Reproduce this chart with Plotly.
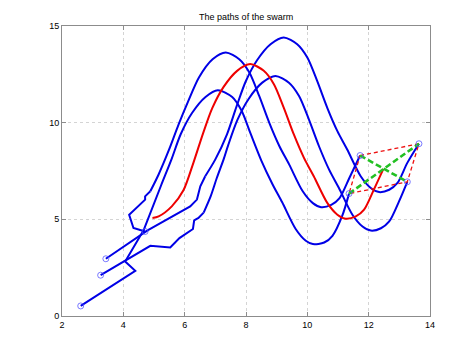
import plotly.graph_objects as go

# ---- data ----
red_x = [4.95, 5.15, 5.58, 5.96, 6.29, 6.60, 6.90, 7.27, 7.71, 8.14, 8.58, 8.91, 9.23, 9.56, 9.89, 10.21, 10.65, 10.98, 11.25, 11.58, 11.85, 12.17, 12.48]
red_y = [5.07, 5.15, 5.67, 6.50, 7.95, 9.45, 10.75, 11.85, 12.68, 13.03, 12.68, 11.99, 10.78, 9.39, 8.18, 7.23, 5.85, 5.24, 5.03, 5.15, 5.50, 6.54, 7.61]

a_rough_x = [4.71, 4.33, 4.19, 4.71, 4.71, 4.88]
a_rough_y = [4.37, 4.55, 5.24, 6.02, 6.19, 6.45]
a_smooth_x = [4.88, 5.15, 5.49, 5.80, 6.10, 6.47, 6.91, 7.34, 7.78, 8.11, 8.43, 8.76, 9.09, 9.41, 9.85, 10.18, 10.45, 10.78, 11.05, 11.37, 11.72]
a_smooth_y = [6.45, 7.32, 8.60, 9.90, 11.05, 12.35, 13.28, 13.63, 13.28, 12.59, 11.38, 9.99, 8.78, 7.83, 6.45, 5.84, 5.63, 5.75, 6.10, 7.14, 8.30]

b_rough_x = [2.61, 4.39, 4.06, 4.66]
b_rough_y = [0.52, 2.34, 2.82, 4.43]
b_smooth_x = [4.66, 5.23, 5.57, 5.87, 6.24, 6.68, 7.08, 7.55, 7.85, 8.15, 8.50, 8.86, 9.18, 9.62, 9.95, 10.18, 10.55, 10.82, 11.14, 11.36]
b_smooth_y = [4.43, 6.75, 8.10, 9.40, 10.50, 11.33, 11.68, 11.33, 10.64, 9.43, 8.04, 6.83, 5.88, 4.50, 3.89, 3.72, 3.80, 4.15, 5.19, 6.33]

c_rough_x = [3.43, 4.79, 6.18, 6.40, 6.51, 6.67]
c_rough_y = [2.96, 4.43, 5.67, 6.02, 6.71, 7.23]
c_smooth_x = [6.67, 7.00, 7.38, 7.69, 7.99, 8.36, 8.80, 9.23, 9.67, 10.00, 10.32, 10.65, 10.98, 11.30, 11.74, 12.07, 12.34, 12.67, 12.94, 13.26, 13.64]
c_smooth_y = [7.23, 8.10, 9.40, 10.83, 12.13, 13.23, 14.06, 14.41, 14.06, 13.37, 12.16, 10.77, 9.56, 8.61, 7.23, 6.62, 6.41, 6.53, 6.88, 7.92, 8.91]

d_rough_x = [3.26, 4.88, 5.53, 5.83, 6.27, 6.31, 6.45, 6.62]
d_rough_y = [2.11, 3.63, 3.54, 4.03, 4.50, 4.95, 5.07, 5.35]
d_smooth_x = [6.62, 6.85, 7.05, 7.27, 7.42, 7.72, 8.09, 8.53, 8.96, 9.40, 9.73, 10.05, 10.38, 10.71, 11.03, 11.47, 11.80, 12.07, 12.40, 12.67, 12.99, 13.26]
d_smooth_y = [5.35, 6.20, 7.15, 8.10, 8.84, 10.14, 11.24, 12.07, 12.42, 12.07, 11.38, 10.17, 8.78, 7.57, 6.62, 5.24, 4.63, 4.42, 4.54, 4.89, 5.93, 6.94]

start_x = [2.61, 3.26, 3.43, 4.71]
start_y = [0.52, 2.11, 2.96, 4.37]
# final positions: A, C, D, B
end_x = [11.72, 13.64, 13.26, 11.36]
end_y = [8.30, 8.91, 6.94, 6.33]

x_ticks = [2, 4, 6, 8, 10, 12, 14]
y_ticks = [0, 5, 10, 15]
title_text = "The paths of the swarm"

BLUE = "#0000e6"
FONT = "Liberation Sans, Arial, sans-serif"
fig = go.Figure()

for rx, ry, sx, sy in [(a_rough_x, a_rough_y, a_smooth_x, a_smooth_y),
                       (b_rough_x, b_rough_y, b_smooth_x, b_smooth_y),
                       (c_rough_x, c_rough_y, c_smooth_x, c_smooth_y),
                       (d_rough_x, d_rough_y, d_smooth_x, d_smooth_y)]:
    fig.add_trace(go.Scatter(x=rx, y=ry, mode="lines",
                             line=dict(color=BLUE, width=2)))
    fig.add_trace(go.Scatter(x=sx, y=sy, mode="lines",
                             line=dict(color=BLUE, width=2, shape="spline", smoothing=0.8)))

fig.add_trace(go.Scatter(x=red_x, y=red_y, mode="lines",
                         line=dict(color="#ee0000", width=2, shape="spline", smoothing=0.8)))

# polygon of final positions (A, C, D, B, A)
quad_x = end_x + [end_x[0]]
quad_y = end_y + [end_y[0]]
fig.add_trace(go.Scatter(x=quad_x, y=quad_y, mode="lines",
                         line=dict(color="#ee1111", width=1.3, dash="4px,3px")))
# diagonals A-D and B-C
fig.add_trace(go.Scatter(x=[end_x[0], end_x[2]], y=[end_y[0], end_y[2]], mode="lines",
                         line=dict(color="#22c022", width=2.6, dash="6px,3px")))
fig.add_trace(go.Scatter(x=[end_x[3], end_x[1]], y=[end_y[3], end_y[1]], mode="lines",
                         line=dict(color="#22c022", width=2.6, dash="6px,3px")))

fig.add_trace(go.Scatter(x=start_x + end_x, y=start_y + end_y, mode="markers",
                         marker=dict(symbol="circle-open", size=6,
                                     color="rgba(80,80,255,0.75)", line=dict(width=1))))

axis_common = dict(
    showgrid=True, gridcolor="#d4d4d4", griddash="dot", gridwidth=1,
    zeroline=False, showline=True, linecolor="#8c8c8c", linewidth=1,
    mirror="ticks", ticks="inside", ticklen=4, tickcolor="#8c8c8c",
    tickfont=dict(family=FONT, size=9, color="#000"),
)
fig.update_xaxes(range=[2, 14], tickvals=x_ticks, **axis_common)
fig.update_yaxes(range=[0, 15], tickvals=y_ticks, **axis_common)

# the page body adds an 8px margin, so the figure is sized to fit inside it
fig.update_layout(
    width=466, height=347,
    margin=dict(l=54, r=44, t=18, b=39),
    paper_bgcolor="white", plot_bgcolor="white",
    showlegend=False,
    title=dict(text=title_text, x=0.511, xanchor="center", y=0.975, yanchor="middle",
               font=dict(family=FONT, size=9, color="#000")),
)

fig.write_html("out.html")
